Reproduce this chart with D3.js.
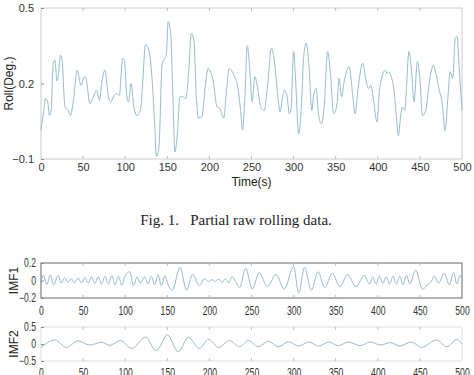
<!DOCTYPE html>
<html>
<head>
<meta charset="utf-8">
<script src="https://cdn.jsdelivr.net/npm/d3@7"></script>
<style>
  body { margin: 0; background: #fff; }
  svg { display: block; }
  .tick text { fill: #333; }
</style>
</head>
<body>
<svg id="chart" width="474" height="375"></svg>
<script>
// raw rolling data
const rollTime = [0,3,5.5,8,10,12,14.5,16.5,19,20.5,23,25,28.5,32.5,35,38.5,43,47.5,52,54,58,62,66,69.5,72,76,80,83,86,90,93,97,99,102,104,107,110,114,118,121,124,128,132,135,137,140,144,147,149,151,154,157,159,162,165,169,172,175.5,178.5,181.5,184.5,187,191,195,198.5,205,209,212,217,220,223.5,229,234,237,239.5,242,245,248,250.8,254,257,261,265,269,273.6,277,281,284,287,289,292,295,297,300,302,306,309,312,315,318,321.7,324,326.8,329.5,333,336,340.5,343.7,347.6,351.6,354,357,360,366,370,373,376.8,382,386,389,391.7,395,399,402,404,409,411,413,416,419,422,424.4,427,429,432,437,440,443,447,450,453,457,461,466,469,473,476,480,483,486,489,492,494,497,500];
const rollValue = [0.015,0.087,0.14,0.127,0.073,0.093,0.28,0.293,0.21,0.227,0.313,0.293,0.107,0.093,0.073,0.133,0.253,0.193,0.227,0.213,0.12,0.147,0.173,0.133,0.2,0.253,0.147,0.127,0.147,0.16,0.153,0.3,0.293,0.147,0.127,0.2,0.113,0.073,0.093,0.213,0.355,0.333,0.213,0.04,-0.09,-0.053,0.28,0.3,0.32,0.446,0.4,0.107,-0.072,0,0.147,0.147,0.14,0.253,0.4,0.373,0.147,0.063,0.067,0.187,0.26,0.2,0.107,0.103,0.063,0.16,0.26,0.233,0.18,0.093,0.015,0.133,0.35,0.253,0.127,0.227,0.187,0.107,0.093,0.187,0.34,0.293,0.16,0.087,0.147,0.173,0.153,0.08,0.1,0.327,0.24,0,0.093,0.307,0.36,0.28,0.093,0.16,0.18,0.08,0.04,0.093,0.327,0.24,0.08,0.12,0.22,0.147,0.207,0.267,0.16,0.08,0.187,0.28,0.213,0.18,0.193,0.133,0.047,0.173,0.213,0.253,0.24,0.247,0.227,0.18,0.073,-0.007,0.067,0.107,0.093,0.327,0.253,0.127,0.287,0.22,0.073,0.093,0.2,0.273,0.24,0.173,0.133,0.013,0.133,0.247,0.22,0.38,0.387,0.24,0.093];

// IMF1 extrema
const imf1Time = [0,3,7,11,15,20.5,24,28,32,36,40,44,48,52,56,60,64,68,72,76,80,84,88,92,96,100,105.5,110,114,118,123,127,131,135,139,143,147,151,156,165,173,180,188,194,199,203,207,211,215,219,223,227,231,236,243,251,259,269,279,289,300,306,313,321,329,337,346,355,364,374,384,390,394,398,402,406,410,414,418,422,426,430,434,438,445,453,460,463,467,472,479,485,490,494,497.6,500];
const imf1Value = [0,0.057,-0.045,0.065,-0.05,0.058,-0.03,0.03,-0.02,0.02,-0.025,0.03,-0.03,0.035,-0.03,0.04,-0.035,0.04,-0.04,0.05,-0.04,0.055,-0.05,0.05,-0.055,0.055,0.1,-0.06,0.04,-0.03,0.04,-0.04,0.05,-0.05,0.065,-0.06,0.055,-0.05,-0.11,0.15,-0.11,0.07,-0.06,0.02,-0.01,0.01,-0.01,0.015,-0.02,0.02,-0.025,0.045,-0.01,-0.08,0.14,-0.1,0.09,-0.07,0.07,-0.1,0.16,-0.14,0.15,-0.11,0.1,-0.08,0.08,-0.07,0.07,-0.07,0.06,-0.04,0.04,-0.04,0.05,-0.03,0.04,-0.04,0.05,-0.04,0.05,-0.05,0.06,-0.04,0.12,-0.1,-0.04,-0.02,0.05,-0.03,0.08,-0.05,0.09,-0.04,0.06,0];

// IMF2 extrema
const imf2Time = [0,16.6,30,44,58,72,82,94,108,124,137,150,163,175,188,199,211,224,236,246,258,270,282,294,306,318,330,342,353,365,379,391,403,415,426,440,452,470,482,494,500];
const imf2Value = [-0.1,0.12,-0.1,0.09,-0.03,0.05,-0.04,0.1,-0.13,0.2,-0.2,0.27,-0.23,0.2,-0.13,0.14,-0.1,0.1,-0.08,0.1,-0.08,0.08,-0.08,0.07,-0.06,0.06,-0.06,0.06,-0.05,0.06,-0.05,0.06,-0.03,0.04,-0.06,0.06,-0.1,0.12,-0.08,0.13,0];

const xTicks = [0,50,100,150,200,250,300,350,400,450,500];
const rollTicks = [-0.1,0.2,0.5];
const imf1Ticks = [-0.2,0,0.2];
const imf2Ticks = [-0.5,0,0.5];

const LEFT = 41, RIGHT = 462;
const LINE = "#94bccd";
const svg = d3.select("#chart");
const x = d3.scaleLinear([0, 500], [LEFT, RIGHT]);

function panel(opts) {
  const y = d3.scaleLinear(opts.domain, [opts.bottom, opts.top]);
  const g = svg.append("g");

  // frame
  g.append("rect")
    .attr("x", LEFT).attr("y", opts.top)
    .attr("width", RIGHT - LEFT).attr("height", opts.bottom - opts.top)
    .attr("fill", "none").attr("stroke", opts.frame).attr("stroke-width", 1);

  // inner ticks top and bottom
  g.selectAll(".xt").data(xTicks.slice(1, -1)).enter().append("path")
    .attr("d", d => `M${x(d)},${opts.bottom}v-3M${x(d)},${opts.top}v3`)
    .attr("stroke", "#bbb");

  const xAxis = g.append("g")
    .attr("transform", `translate(0,${opts.bottom})`)
    .call(d3.axisBottom(x).tickValues(xTicks).tickSize(0).tickPadding(opts.xPad).tickFormat(d3.format("d")));
  xAxis.select(".domain").remove();
  xAxis.selectAll("text").style("font", opts.font).attr("transform", opts.squeeze);

  const yAxis = g.append("g")
    .attr("transform", `translate(${LEFT},0)`)
    .call(d3.axisLeft(y).tickValues(opts.ticks).tickSize(3).tickPadding(4).tickFormat(d => d === 0 ? "0" : d3.format(".1f")(d)));
  yAxis.select(".domain").remove();
  yAxis.selectAll("line").attr("x2", 3).attr("stroke", "#888");
  yAxis.selectAll("text").style("font", opts.font).attr("transform", opts.squeeze);

  g.append("path")
    .datum(opts.t.map((t, i) => [t, opts.v[i]]))
    .attr("fill", "none")
    .attr("stroke", LINE)
    .attr("stroke-width", 1)
    .attr("d", d3.line().x(d => x(d[0])).y(d => y(d[1])).curve(d3.curveMonotoneX));

  g.append("text")
    .attr("transform", `translate(${opts.labelX},${(opts.top + opts.bottom) / 2}) rotate(-90)`)
    .attr("text-anchor", "middle")
    .attr("dy", "0.35em")
    .style("font", opts.labelFont)
    .attr("fill", "#222")
    .text(opts.label);
}

panel({ t: rollTime, v: rollValue, domain: [-0.1, 0.5], ticks: rollTicks, top: 8, bottom: 159,
  frame: "#ccc", xPad: 4, font: "11px 'Liberation Sans', Arial, sans-serif", squeeze: null,
  label: "Roll(Deg.)", labelX: 9, labelFont: "12px 'Liberation Sans', Arial, sans-serif" });

svg.append("text")
  .attr("x", (LEFT + RIGHT) / 2).attr("y", 186)
  .attr("text-anchor", "middle")
  .style("font", "12px 'Liberation Sans', Arial, sans-serif")
  .attr("fill", "#222")
  .text("Time(s)");

svg.append("text")
  .attr("x", 236).attr("y", 225)
  .attr("text-anchor", "middle")
  .style("font", "15px 'Liberation Serif', 'Times New Roman', serif")
  .attr("fill", "#222")
  .attr("xml:space", "preserve")
  .text("Fig. 1.   Partial raw rolling data.");

panel({ t: imf1Time, v: imf1Value, domain: [-0.2, 0.2], ticks: imf1Ticks, top: 263, bottom: 298,
  frame: "#666", xPad: 8, font: "12px 'Liberation Sans', Arial, sans-serif", squeeze: "scale(0.72,1)",
  label: "IMF1", labelX: 14, labelFont: "12px 'Liberation Sans', Arial, sans-serif" });

panel({ t: imf2Time, v: imf2Value, domain: [-0.5, 0.5], ticks: imf2Ticks, top: 327, bottom: 361,
  frame: "#ddd", xPad: 7, font: "12px 'Liberation Sans', Arial, sans-serif", squeeze: "scale(0.72,1)",
  label: "IMF2", labelX: 14, labelFont: "12px 'Liberation Sans', Arial, sans-serif" });
</script>
</body>
</html>
